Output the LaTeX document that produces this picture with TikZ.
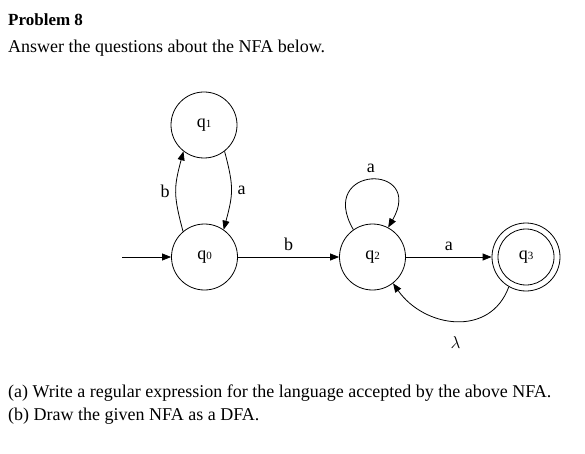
\documentclass[tikz,border=0pt]{standalone}
\usepackage{fontspec}
\setmainfont{Liberation Serif}
\usetikzlibrary{arrows.meta}
\begin{document}
\begin{tikzpicture}[x=1pt,y=-1pt,
  txt/.style={font=\fontsize{18}{20}\selectfont},
  state/.style={circle,draw,line width=0.8pt,minimum size=66pt,inner sep=0pt,txt},
  edge/.style={line width=0.8pt,-{Triangle[length=9pt,width=7pt]}},
  lab/.style={txt,inner sep=1pt}]
\useasboundingbox (0,0) rectangle (585,454);
\node[anchor=base west,txt,font=\bfseries\fontsize{17}{20}\selectfont,inner sep=0pt] (title) at (8,26) {Problem 8};
\node[anchor=base west,txt,inner sep=0pt] (intro) at (8,53) {Answer the questions about the NFA below.};
\node[anchor=base west,txt,inner sep=0pt] (qa) at (8,397) {(a) Write a regular expression for the language accepted by the above NFA.};
\node[anchor=base west,txt,inner sep=0pt] (qb) at (8,420) {(b) Draw the given NFA as a DFA.};

\newcommand{\qs}[1]{q\raisebox{-0.5pt}{\fontsize{11}{11}\selectfont #1}}
\node[state] (q1) at (204,125) {\qs{1}};
\node[state] (q0) at (204.5,257) {\qs{0}};
\node[state] (q2) at (372.5,257) {\qs{2}};
\node[state,minimum size=68pt] (q3) at (526,257) {};
\node[circle,draw,line width=0.8pt,minimum size=56pt,inner sep=0pt,txt] (q3i) at (526,257) {\qs{3}};
\coordinate (start) at (122,257);

\draw[edge] (start) -- (q0);
\draw[edge] (q0) -- node[lab,above,yshift=5pt,xshift=0pt] {b} (q2);
\draw[edge] (q2) -- node[lab,above,yshift=5pt] {a} (q3);
\draw[edge] (q0.130) to[out=105,in=255,looseness=1.2] node[lab,left,xshift=-5pt] {b} (q1.232);
\draw[edge] (q1.308) to[out=-75,in=75,looseness=1.2] node[lab,right,xshift=5pt] {a} (q0.55);
\draw[edge] (q2.125) to[out=120,in=60,looseness=5.5] node[lab,above,yshift=6pt] {a} (q2.62);
\draw[edge] (q3.240) to[out=250,in=-55,looseness=1.2] node[lab,below,yshift=-14pt] {$\lambda$} (q2.-52);
\end{tikzpicture}
\end{document}
